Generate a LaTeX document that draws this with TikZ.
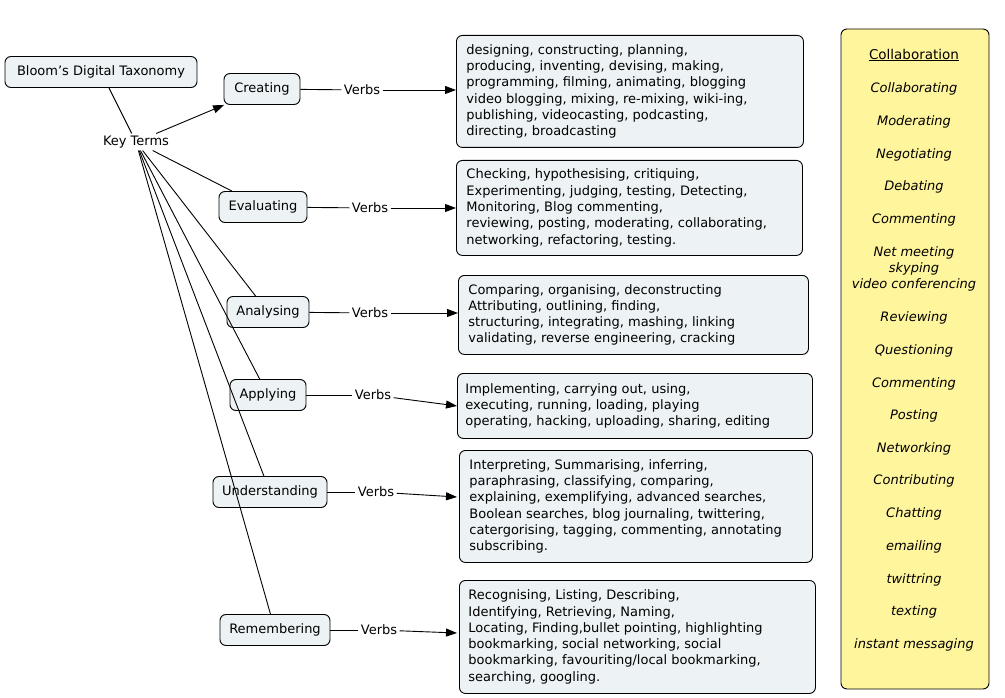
\documentclass[tikz,border=0pt]{standalone}
\usepackage{fontspec}
\setmainfont{DejaVu Sans}
\usetikzlibrary{arrows.meta}
\definecolor{boxfill}{HTML}{EDF2F5}
\definecolor{yel}{HTML}{FFF59C}
\begin{document}
\begin{tikzpicture}[x=1pt,y=-1pt,font=\fontsize{13}{16.3}\selectfont,line width=0.9pt,
  concept/.style={draw,rounded corners=6pt,fill=boxfill,inner sep=0pt,minimum height=31pt},
  verbbox/.style={draw,rounded corners=6pt,fill=boxfill,anchor=north west,inner sep=0pt},
  vtext/.style={anchor=west,align=left,inner sep=0pt},
  lbl/.style={inner sep=2pt,fill=white},
  arr/.style={-{Triangle[length=11pt,width=8pt]}},
  item/.style={font=\fontsize{13}{16.3}\selectfont\itshape}]
\useasboundingbox (0,0) rectangle (1005,698);
\node[concept,minimum width=192pt] (bloom) at (101,72) {Bloom's Digital Taxonomy};
\node[inner sep=2pt] (key) at (136,142) {Key Terms};
\node[concept,minimum width=76pt] (cre) at (262,89) {Creating};
\node[concept,minimum width=88pt] (eva) at (263,207) {Evaluating};
\node[concept,minimum width=82pt] (ana) at (268,312) {Analysing};
\node[concept,minimum width=76pt] (app) at (268,395) {Applying};
\node[concept,minimum width=114pt] (und) at (270,492) {Understanding};
\node[concept,minimum width=110pt] (rem) at (275,630) {Remembering};

\draw (bloom) -- (key);
\draw[arr] (key) -- (cre);
\foreach \n in {eva,ana,app,und,rem} \draw (key) -- (\n);

\node[verbbox,minimum width=347pt,minimum height=112pt] (b1) at (456,35) {};
\node[vtext] (t1) at ([xshift=10pt]b1.west) {designing, constructing, planning,\\ producing, inventing, devising, making,\\ programming, filming, animating, blogging\\ video blogging, mixing, re-mixing, wiki-ing,\\ publishing, videocasting, podcasting,\\ directing, broadcasting};
\node[verbbox,minimum width=346pt,minimum height=95pt] (b2) at (456,160) {};
\node[vtext] (t2) at ([xshift=10pt]b2.west) {Checking, hypothesising, critiquing,\\ Experimenting, judging, testing, Detecting,\\ Monitoring, Blog commenting,\\ reviewing, posting, moderating, collaborating,\\ networking, refactoring, testing.};
\node[verbbox,minimum width=350pt,minimum height=79pt] (b3) at (458,275) {};
\node[vtext] (t3) at ([xshift=10pt]b3.west) {Comparing, organising, deconstructing\\ Attributing, outlining, finding,\\ structuring, integrating, mashing, linking\\ validating, reverse engineering, cracking};
\node[verbbox,minimum width=355pt,minimum height=65pt] (b4) at (457,373) {};
\node[vtext] (t4) at ([xshift=8pt]b4.west) {Implementing, carrying out, using,\\ executing, running, loading, playing\\ operating, hacking, uploading, sharing, editing};
\node[verbbox,minimum width=353pt,minimum height=112pt] (b5) at (459,450) {};
\node[vtext] (t5) at ([xshift=10pt]b5.west) {Interpreting, Summarising, inferring,\\ paraphrasing, classifying, comparing,\\ explaining, exemplifying, advanced searches,\\ Boolean searches, blog journaling, twittering,\\ catergorising, tagging, commenting, annotating\\ subscribing.};
\node[verbbox,minimum width=356pt,minimum height=113pt] (b6) at (459,580) {};
\node[vtext] (t6) at ([xshift=9pt]b6.west) {Recognising, Listing, Describing,\\ Identifying, Retrieving, Naming,\\ Locating, Finding,bullet pointing, highlighting\\ bookmarking, social networking, social\\ bookmarking, favouriting/local bookmarking,\\ searching, googling.};

\node[lbl] (v1) at (362,90) {Verbs};
\node[lbl] (v2) at (370,208) {Verbs};
\node[lbl] (v3) at (370,313) {Verbs};
\node[lbl] (v4) at (373,395) {Verbs};
\node[lbl] (v5) at (376,492) {Verbs};
\node[lbl] (v6) at (379,630) {Verbs};
\draw (cre) -- (v1); \draw[arr] (v1) -- (b1.west|-v1);
\draw (eva) -- (v2); \draw[arr] (v2) -- (b2.west|-v2);
\draw (ana) -- (v3); \draw[arr] (v3) -- (b3.west|-v3);
\draw (app) -- (v4); \draw[arr] (v4) -- (b4.west);
\coordinate (e5) at (457,497); \coordinate (e6) at (457,633);
\draw (und) -- (v5); \draw[arr] (v5) -- (e5);
\draw (rem) -- (v6); \draw[arr] (v6) -- (e6);

\node[draw,rounded corners=6pt,fill=yel,minimum width=148pt,minimum height=660pt,inner sep=0pt] (col) at (915,359) {};
\node (ct) at (914,55) {\fontsize{13.5}{16}\selectfont\underline{Collaboration}};
\foreach \y/\t in {89/Collaborating,122/Moderating,155/Negotiating,187/Debating,220/Commenting,318/Reviewing,351/Questioning,384/Commenting,416/Posting,449/Networking,481/Contributing,514/Chatting,547/emailing,580/twittring,612/texting,645/instant messaging}
  \node[item] at (914,\y) {\t};
\node[item,align=center] (nm) at (914,269) {Net meeting\\ skyping\\ video conferencing};
\end{tikzpicture}
\end{document}
